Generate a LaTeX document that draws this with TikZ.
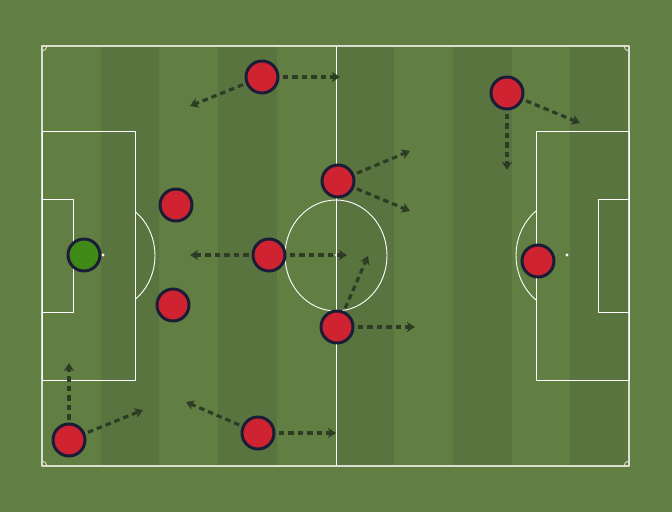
\documentclass[tikz,border=0pt]{standalone}
\usepackage{tikz}
\usetikzlibrary{arrows.meta}
\usetikzlibrary{shadows}
\definecolor{grass}{HTML}{627F43}
\definecolor{darkgrass}{HTML}{5A7440}
\definecolor{kitred}{HTML}{CF2331}
\definecolor{kitgreen}{HTML}{3F8A17}
\definecolor{kitrim}{HTML}{1B1D36}
\definecolor{runline}{HTML}{2E3B25}
\definecolor{chalk}{HTML}{DADFCF}
\tikzset{
  player/.style={circle,draw=kitrim,line width=3pt,fill=kitred,minimum size=32pt,inner sep=0pt,
    drop shadow={opacity=0.25,shadow xshift=0.8pt,shadow yshift=-1pt}},
  keeper/.style={player,fill=kitgreen},
  run/.style={line width=3.2pt,runline,dash pattern=on 5.5pt off 4pt,shorten <=3pt,
    -{Stealth[length=8pt,width=10pt,inset=2pt]}},
  pitchline/.style={white,line width=0.9pt},
}
\begin{document}
\begin{tikzpicture}[line cap=butt,line join=round, x=1pt,y=-1pt]
					\fill[grass] (0,0) rectangle (672,512);
					\useasboundingbox (0,0) rectangle (672,512);
					% stripes
					\foreach \i in {1,3,5,7,9}
					\fill[darkgrass] (42+\i*58.7,46) rectangle (42+\i*58.7+58.7,466);
					% pitch
					\draw[chalk,line width=1.4pt] (42,46) rectangle (629,466);
					\draw[pitchline] (336,46) -- (336,466);
					\draw[pitchline] (336,255.5) ellipse (51 and 55.5);
					\draw[pitchline] (42,131) rectangle (135,380);
					\draw[pitchline] (42,199) rectangle (73,312);
					\draw[pitchline] (629,131) rectangle (536,380);
					\draw[pitchline] (629,199) rectangle (598,312);
					\begin{scope}
					\clip (460,150) rectangle (536,360);
					\draw[pitchline] (567,255.5) ellipse (51 and 56);
					\end{scope}
					\begin{scope}
					\clip (135,150) rectangle (210,360);
					\draw[pitchline] (103,255.5) ellipse (52 and 56);
					\end{scope}
					\fill[white] (103,255) circle (1.6);
					\fill[white] (567,255) circle (1.6);
					\fill[white] (336,255) circle (1.2);
					% corners
					\draw[chalk,line width=0.9pt] (47,46) arc[start angle=0,end angle=90,radius=5];
					\draw[chalk,line width=0.9pt] (624,46) arc[start angle=180,end angle=90,radius=5];
					\draw[chalk,line width=0.9pt] (47,466) arc[start angle=0,end angle=-90,radius=5];
					\draw[chalk,line width=0.9pt] (624,466) arc[start angle=180,end angle=270,radius=5];
					% run targets
					\coordinate (t1a) at (340,77);
					\coordinate (t1b) at (190,106);
					\coordinate (t2a) at (580,123);
					\coordinate (t2b) at (507,170);
					\coordinate (t4a) at (410,151);
					\coordinate (t4b) at (410,211);
					\coordinate (t6a) at (190,255);
					\coordinate (t6b) at (347,255);
					\coordinate (t9a) at (368,256);
					\coordinate (t9b) at (415,327);
					\coordinate (t10a) at (69,363);
					\coordinate (t10b) at (143,410);
					\coordinate (t11a) at (186,402);
					\coordinate (t11b) at (336,433);
					% players
					\node[player] (p1) at (262,77) {};
					\node[player] (p2) at (507,93) {};
					\node[player] (p3) at (176,205) {};
					\node[player] (p4) at (338,181) {};
					\node[keeper] (p5) at (84,255) {};
					\node[player] (p6) at (269,255) {};
					\node[player] (p7) at (538,261) {};
					\node[player] (p8) at (173,305) {};
					\node[player] (p9) at (337,327) {};
					\node[player] (p10) at (69,440) {};
					\node[player] (p11) at (258,433) {};
					% runs
					\foreach \p in {1,2,4,6,9,10,11}{
					\draw[run] (p\p) -- (t\p a);
					\draw[run] (p\p) -- (t\p b);
					}
				\end{tikzpicture}
\end{document}
